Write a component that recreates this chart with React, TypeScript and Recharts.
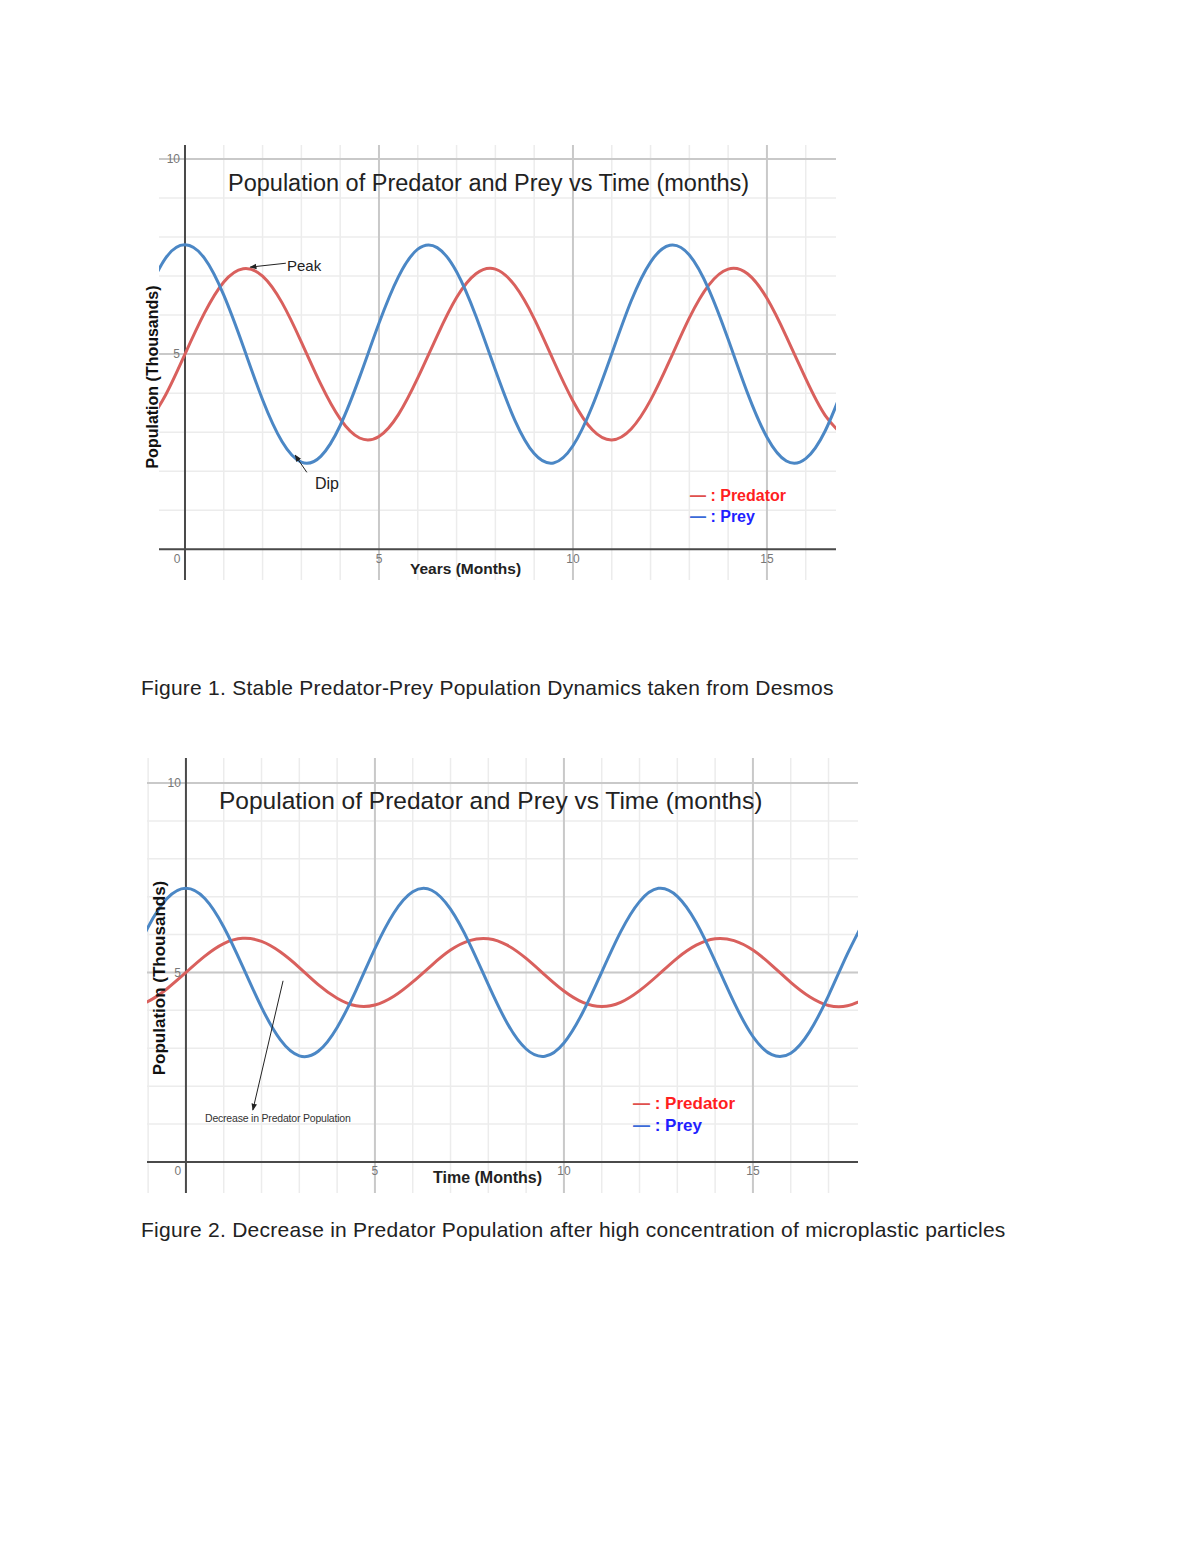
import React from "react";
import {
  LineChart,
  Line,
  XAxis,
  YAxis,
  ReferenceLine,
  ReferenceDot,
  Legend,
} from "recharts";

const FONT = '"Liberation Sans", Arial, sans-serif';

// Colors (Desmos-like)
const COLOR_PREDATOR = "#d9605d";
const COLOR_PREY = "#4b87c5";
const COLOR_MINOR = "#ececec";
const COLOR_MAJOR = "#c9c9c9";
const COLOR_AXIS = "#4a4a4a";

// Figure 1 – stable cycle (x: months, y: thousands)
const months1 = [
  -1, -0.5, 0, 0.5, 1, 1.5, 2, 2.5, 3, 3.5, 4, 4.5, 5, 5.5, 6, 6.5, 7, 7.5, 8,
  8.5, 9, 9.5, 10, 10.5, 11, 11.5, 12, 12.5, 13, 13.5, 14, 14.5, 15, 15.5, 16,
  16.5, 17,
];
const prey1 = [
  6.51, 7.46, 7.8, 7.46, 6.51, 5.2, 3.83, 2.76, 2.23, 2.38, 3.17, 4.41, 5.79,
  6.98, 7.69, 7.73, 7.11, 5.97, 4.59, 3.31, 2.45, 2.21, 2.65, 3.67, 5.01, 6.36,
  7.36, 7.79, 7.54, 6.66, 5.38, 4.0, 2.87, 2.26, 2.32, 3.03, 4.23,
];
const predator1 = [
  3.15, 3.95, 5.0, 6.05, 6.85, 7.19, 7.0, 6.32, 5.31, 4.23, 3.34, 2.85, 2.89,
  3.45, 4.39, 5.47, 6.45, 7.06, 7.18, 6.76, 5.91, 4.83, 3.8, 3.06, 2.8, 3.08,
  3.82, 4.85, 5.93, 6.77, 7.18, 7.06, 6.43, 5.45, 4.37, 3.43, 2.89,
];

// Figure 2 – after microplastics (predator amplitude reduced)
const months2 = [
  -1.5, -1, -0.5, 0, 0.5, 1, 1.5, 2, 2.5, 3, 3.5, 4, 4.5, 5, 5.5, 6, 6.5, 7,
  7.5, 8, 8.5, 9, 9.5, 10, 10.5, 11, 11.5, 12, 12.5, 13, 13.5, 14, 14.5, 15,
  15.5, 16, 16.5, 17, 17.5, 18,
];
const prey2 = [
  5.16, 6.2, 6.95, 7.22, 6.95, 6.2, 5.16, 4.08, 3.22, 2.8, 2.92, 3.55, 4.53,
  5.63, 6.57, 7.13, 7.17, 6.67, 5.77, 4.68, 3.66, 2.98, 2.79, 3.14, 3.95, 5.01,
  6.07, 6.87, 7.22, 7.01, 6.32, 5.3, 4.21, 3.31, 2.83, 2.87, 3.44, 4.39, 5.49,
  6.47,
];
const predator2 = [
  4.1, 4.24, 4.57, 5.0, 5.43, 5.76, 5.9, 5.82, 5.54, 5.13, 4.68, 4.32, 4.12,
  4.14, 4.37, 4.75, 5.19, 5.59, 5.84, 5.89, 5.72, 5.37, 4.93, 4.51, 4.21, 4.1,
  4.21, 4.52, 4.94, 5.38, 5.72, 5.89, 5.84, 5.59, 5.19, 4.74, 4.36, 4.13, 4.12,
  4.32,
];

// Axis tick labels and grid lines
const xTickLabels = [5, 10, 15];
const yTickLabels = [5, 10];
const gridX1 = [0, 1, 2, 3, 4, 5, 6, 7, 8, 9, 10, 11, 12, 13, 14, 15, 16];
const gridX2 = [-1, 0, 1, 2, 3, 4, 5, 6, 7, 8, 9, 10, 11, 12, 13, 14, 15, 16, 17];
const gridY = [0, 1, 2, 3, 4, 5, 6, 7, 8, 9, 10];

const LEGEND_ITEMS = [
  { label: "Predator", text: "#ff1f1f", dash: "#e0504d" },
  { label: "Prey", text: "#1f1fff", dash: "#3a6ad8" },
];

type Pt = { x: number; y: number };

// Annotation arrows (tail -> head), in data units
const arrows1: [Pt, Pt][] = [
  [{ x: 2.6, y: 7.33 }, { x: 1.68, y: 7.23 }], // Peak
  [{ x: 3.14, y: 1.97 }, { x: 2.84, y: 2.41 }], // Dip
];
const arrows2: [Pt, Pt][] = [
  [{ x: 2.57, y: 4.78 }, { x: 1.77, y: 1.37 }], // Decrease in predator population
];

const toRows = (months: number[], prey: number[], predator: number[]) =>
  months.map((m, i) => ({ month: m, prey: prey[i], predator: predator[i] }));

const data1 = toRows(months1, prey1, predator1);
const data2 = toRows(months2, prey2, predator2);

const tickLabel = (value: string | number, position: string, dx = 0) => ({
  value,
  position,
  offset: 5,
  dx,
  fill: "#777",
  fontSize: 12,
  fontFamily: FONT,
});

function LegendBox({ fontSize }: { fontSize: number }) {
  return (
    <div style={{ fontFamily: FONT, fontWeight: "bold", fontSize, lineHeight: `${fontSize + 5}px` }}>
      {LEGEND_ITEMS.map((item) => (
        <div key={item.label} style={{ color: item.text, whiteSpace: "nowrap" }}>
          <span style={{ color: item.dash }}>—</span> : {item.label}
        </div>
      ))}
    </div>
  );
}

interface ChartProps {
  data: { month: number; prey: number; predator: number }[];
  width: number;
  height: number;
  xDomain: [number, number];
  yDomain: [number, number];
  gridX: number[];
  arrowId: string;
  arrows: [Pt, Pt][];
  legendLeft: number;
  legendTop: number;
  legendFont: number;
}

function PopulationChart({
  data,
  width,
  height,
  xDomain,
  yDomain,
  gridX,
  arrowId,
  arrows,
  legendLeft,
  legendTop,
  legendFont,
}: ChartProps) {
  return (
    <LineChart width={width} height={height} data={data} margin={{ top: 0, right: 0, bottom: 0, left: 0 }}>
      <defs>
        <marker
          id={arrowId}
          viewBox="0 0 10 10"
          refX="9"
          refY="5"
          markerWidth="7"
          markerHeight="7"
          orient="auto"
        >
          <path d="M0,1 L10,5 L0,9 z" fill="#222" />
        </marker>
      </defs>
      <XAxis type="number" dataKey="month" domain={xDomain} allowDataOverflow hide />
      <YAxis type="number" domain={yDomain} allowDataOverflow hide />

      {/* Minor grid */}
      {gridX.map((v) => (
        <ReferenceLine key={`gx-${v}`} x={v} stroke={COLOR_MINOR} strokeWidth={1.5} />
      ))}
      {gridY.map((v) => (
        <ReferenceLine key={`gy-${v}`} y={v} stroke={COLOR_MINOR} strokeWidth={1.5} />
      ))}
      {/* Major grid */}
      {xTickLabels.map((v) => (
        <ReferenceLine key={`mx-${v}`} x={v} stroke={COLOR_MAJOR} strokeWidth={2} />
      ))}
      {yTickLabels.map((v) => (
        <ReferenceLine key={`my-${v}`} y={v} stroke={COLOR_MAJOR} strokeWidth={2} />
      ))}
      {/* Axes */}
      <ReferenceLine x={0} stroke={COLOR_AXIS} strokeWidth={2} />
      <ReferenceLine y={0} stroke={COLOR_AXIS} strokeWidth={2} />

      <Line
        type="natural"
        dataKey="predator"
        name="Predator"
        stroke={COLOR_PREDATOR}
        strokeWidth={3}
        dot={false}
        isAnimationActive={false}
      />
      <Line
        type="natural"
        dataKey="prey"
        name="Prey"
        stroke={COLOR_PREY}
        strokeWidth={3}
        dot={false}
        isAnimationActive={false}
      />

      {/* Tick labels */}
      <ReferenceDot x={0} y={0} r={0} fill="none" stroke="none" label={tickLabel(0, "bottom", -8) as any} />
      {xTickLabels.map((v) => (
        <ReferenceDot key={`tx-${v}`} x={v} y={0} r={0} fill="none" stroke="none" label={tickLabel(v, "bottom") as any} />
      ))}
      {yTickLabels.map((v) => (
        <ReferenceDot key={`ty-${v}`} x={0} y={v} r={0} fill="none" stroke="none" label={tickLabel(v, "left") as any} />
      ))}

      {/* Annotation arrows */}
      {arrows.map((seg, i) => (
        <ReferenceLine
          key={`arrow-${i}`}
          segment={seg}
          stroke="#222"
          strokeWidth={1}
          markerEnd={`url(#${arrowId})`}
          ifOverflow="visible"
        />
      ))}

      <Legend
        layout="horizontal"
        verticalAlign="middle"
        align="center"
        wrapperStyle={{ left: legendLeft, top: legendTop, width: "auto" }}
        content={() => <LegendBox fontSize={legendFont} />}
      />
    </LineChart>
  );
}

const abs = (left: number, top: number, extra: React.CSSProperties = {}): React.CSSProperties => ({
  position: "absolute",
  left,
  top,
  transform: "translateY(-50%)",
  lineHeight: 1,
  whiteSpace: "nowrap",
  fontFamily: FONT,
  ...extra,
});

const rotated = (left: number, top: number, fontSize: number): React.CSSProperties => ({
  position: "absolute",
  left,
  top,
  transform: "translate(-50%, -50%) rotate(-90deg)",
  fontFamily: FONT,
  fontWeight: "bold",
  fontSize,
  whiteSpace: "nowrap",
  color: "#111",
});

export default function App() {
  return (
    <div style={{ position: "absolute", left: 0, top: 0, width: 1200, height: 1553, background: "#fff", fontFamily: FONT }}>
      {/* Figure 1 */}
      <div style={{ position: "absolute", left: 159, top: 145 }}>
        <PopulationChart
          data={data1}
          width={677}
          height={435}
          xDomain={[-0.67, 16.78]}
          yDomain={[-0.79, 10.36]}
          gridX={gridX1}
          arrowId="arrow-fig1"
          arrows={arrows1}
          legendLeft={531}
          legendTop={340}
          legendFont={16}
        />
      </div>
      <div style={abs(228, 184, { fontSize: 23.5, color: "#222" })}>
        Population of Predator and Prey vs Time (months)
      </div>
      <div style={abs(287, 265, { fontSize: 15, color: "#222" })}>Peak</div>
      <div style={abs(315, 484, { fontSize: 16, color: "#222" })}>Dip</div>
      <div style={rotated(153, 377, 16)}>Population (Thousands)</div>
      <div style={abs(410, 569, { fontSize: 15.5, fontWeight: "bold", color: "#222" })}>Years (Months)</div>
      <div style={abs(141, 687, { fontSize: 21, letterSpacing: 0.25, color: "#222" })}>
        Figure 1. Stable Predator-Prey Population Dynamics taken from Desmos
      </div>

      {/* Figure 2 */}
      <div style={{ position: "absolute", left: 147, top: 758 }}>
        <PopulationChart
          data={data2}
          width={711}
          height={435}
          xDomain={[-1.03, 17.78]}
          yDomain={[-0.82, 10.66]}
          gridX={gridX2}
          arrowId="arrow-fig2"
          arrows={arrows2}
          legendLeft={486}
          legendTop={335}
          legendFont={17}
        />
      </div>
      <div style={abs(219, 801, { fontSize: 24.5, color: "#222" })}>
        Population of Predator and Prey vs Time (months)
      </div>
      <div style={abs(205, 1118, { fontSize: 10.5, letterSpacing: -0.2, color: "#333" })}>
        Decrease in Predator Population
      </div>
      <div style={rotated(160, 978, 17)}>Population (Thousands)</div>
      <div style={abs(433, 1178, { fontSize: 16, fontWeight: "bold", color: "#222" })}>Time (Months)</div>
      <div style={abs(141, 1229, { fontSize: 21, letterSpacing: 0.25, color: "#222" })}>
        Figure 2. Decrease in Predator Population after high concentration of microplastic particles
      </div>
    </div>
  );
}
